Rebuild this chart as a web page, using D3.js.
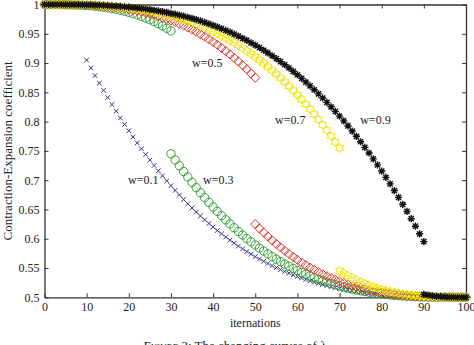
<!DOCTYPE html>
<html>
<head>
<meta charset="utf-8">
<script src="https://cdn.jsdelivr.net/npm/d3@7"></script>
<style>
  html, body { margin: 0; padding: 0; background: #fff; }
  svg { display: block; }
  text { font-family: "Liberation Serif", "DejaVu Serif", serif; fill: #222; }
</style>
</head>
<body>
<svg id="chart" width="474" height="345"></svg>
<script>
// ---- data ----
const xTicks = [0, 10, 20, 30, 40, 50, 60, 70, 80, 90, 100];
const yTicks = [0.5, 0.55, 0.6, 0.65, 0.7, 0.75, 0.8, 0.85, 0.9, 0.95, 1];
const labels = ["w=0.1", "w=0.3", "w=0.5", "w=0.7", "w=0.9"];
// first iteration of each phase: [phase 1 start, phase 2 start]
const phaseStarts = [[0, 10], [0, 30], [0, 50], [0, 70], [0, 90]];

const w01a = [1,1,1,0.9999,0.9997,0.9994,0.9989,0.9983,0.9974,0.9964,0.995];
const w01b = [0.905,0.8917,0.8786,0.8658,0.8534,0.8412,0.8293,0.8177,0.8063,0.7952,
  0.7844,0.7739,0.7636,0.7536,0.7439,0.7344,0.7251,0.7161,0.7074,0.6988,
  0.6906,0.6825,0.6747,0.6671,0.6597,0.6526,0.6456,0.6389,0.6324,0.6261,
  0.62,0.6141,0.6084,0.6029,0.5976,0.5924,0.5875,0.5827,0.5781,0.5737,
  0.5694,0.5654,0.5614,0.5577,0.5541,0.5506,0.5473,0.5442,0.5412,0.5383,
  0.5356,0.533,0.5305,0.5281,0.5259,0.5238,0.5218,0.52,0.5182,0.5166,
  0.515,0.5135,0.5122,0.5109,0.5098,0.5087,0.5077,0.5068,0.5059,0.5051,
  0.5044,0.5038,0.5032,0.5027,0.5023,0.5019,0.5015,0.5012,0.501,0.5007,
  0.5006,0.5004,0.5003,0.5002,0.5001,0.5001,0.5,0.5,0.5,0.5,0.5];

const w03a = [1,1,1,1,0.9999,0.9998,0.9996,0.9994,0.9991,0.9988,
  0.9983,0.9978,0.9971,0.9963,0.9954,0.9944,0.9932,0.9918,0.9903,0.9886,
  0.9867,0.9846,0.9823,0.9797,0.977,0.974,0.9707,0.9672,0.9634,0.9594,0.955];
const w03b = [0.745,0.7346,0.7246,0.7148,0.7054,0.6962,0.6872,0.6786,0.6702,0.6621,
  0.6543,0.6467,0.6394,0.6323,0.6254,0.6188,0.6125,0.6063,0.6004,0.5948,
  0.5893,0.584,0.579,0.5742,0.5695,0.5651,0.5608,0.5568,0.5529,0.5492,
  0.5457,0.5424,0.5392,0.5362,0.5333,0.5306,0.5281,0.5257,0.5234,0.5213,
  0.5193,0.5174,0.5157,0.5141,0.5126,0.5112,0.5099,0.5087,0.5076,0.5066,
  0.5057,0.5049,0.5042,0.5035,0.5029,0.5024,0.502,0.5016,0.5012,0.501,
  0.5007,0.5005,0.5004,0.5002,0.5002,0.5001,0.5,0.5,0.5,0.5,0.5];

const w05a = [1,1,1,1,0.9999,0.9999,0.9998,0.9997,0.9995,0.9993,
  0.999,0.9987,0.9983,0.9978,0.9973,0.9966,0.9959,0.9951,0.9942,0.9931,
  0.992,0.9907,0.9894,0.9878,0.9862,0.9844,0.9824,0.9803,0.978,0.9756,
  0.973,0.9702,0.9672,0.9641,0.9607,0.9571,0.9533,0.9493,0.9451,0.9407,
  0.936,0.9311,0.9259,0.9205,0.9148,0.9089,0.9027,0.8962,0.8894,0.8824,0.875];
const w05b = [0.625,0.6176,0.6106,0.6038,0.5973,0.5911,0.5852,0.5795,0.5741,0.5689,
  0.564,0.5593,0.5549,0.5507,0.5467,0.5429,0.5393,0.5359,0.5328,0.5298,
  0.527,0.5244,0.522,0.5197,0.5176,0.5156,0.5138,0.5122,0.5106,0.5093,
  0.508,0.5069,0.5058,0.5049,0.5041,0.5034,0.5027,0.5022,0.5017,0.5013,
  0.501,0.5007,0.5005,0.5003,0.5002,0.5001,0.5001,0.5,0.5,0.5,0.5];

const w07a = [1,1,1,1,1,0.9999,0.9998,0.9998,0.9996,0.9995,
  0.9993,0.999,0.9988,0.9984,0.998,0.9976,0.9971,0.9965,0.9958,0.9951,
  0.9943,0.9934,0.9924,0.9913,0.9901,0.9888,0.9874,0.9859,0.9843,0.9826,
  0.9807,0.9787,0.9766,0.9743,0.9719,0.9694,0.9667,0.9638,0.9608,0.9576,
  0.9543,0.9508,0.9471,0.9432,0.9392,0.9349,0.9305,0.9258,0.921,0.916,
  0.9107,0.9052,0.8996,0.8937,0.8875,0.8812,0.8746,0.8677,0.8606,0.8533,
  0.8457,0.8379,0.8298,0.8214,0.8128,0.8038,0.7946,0.7852,0.7754,0.7653,0.755];
const w07b = [0.545,0.5406,0.5366,0.5328,0.5293,0.526,0.523,0.5203,0.5177,0.5154,
  0.5133,0.5114,0.5097,0.5082,0.5068,0.5056,0.5046,0.5037,0.5029,0.5022,
  0.5017,0.5012,0.5009,0.5006,0.5004,0.5002,0.5001,0.5,0.5,0.5,0.5];

const w09a = [1,1,1,1,1,0.9999,0.9999,0.9998,0.9997,0.9996,
  0.9994,0.9993,0.999,0.9988,0.9985,0.9981,0.9977,0.9973,0.9968,0.9962,
  0.9956,0.9949,0.9941,0.9932,0.9923,0.9913,0.9902,0.9891,0.9878,0.9865,
  0.985,0.9834,0.9818,0.98,0.9782,0.9762,0.9741,0.9719,0.9695,0.967,
  0.9644,0.9617,0.9588,0.9558,0.9527,0.9494,0.9459,0.9423,0.9386,0.9346,
  0.9306,0.9263,0.9219,0.9173,0.9125,0.9076,0.9024,0.8971,0.8916,0.8859,
  0.88,0.8739,0.8676,0.8611,0.8544,0.8474,0.8403,0.8329,0.8253,0.8175,
  0.8094,0.8012,0.7926,0.7839,0.7749,0.7656,0.7561,0.7464,0.7364,0.7261,
  0.7156,0.7048,0.6937,0.6823,0.6707,0.6588,0.6466,0.6342,0.6214,0.6084,0.595];
const w09b = [0.505,0.5036,0.5026,0.5017,0.5011,0.5006,0.5003,0.5001,0.5,0.5,0.5];

// ---- build series table ----
const seriesValues = [[w01a, w01b], [w03a, w03b], [w05a, w05b], [w07a, w07b], [w09a, w09b]];
const markerTypes = ["x", "circle", "diamond", "hexagram", "asterisk"];
const colors = ["#2e2e88", "#33a033", "#e0352b", "#f2e400", "#111111"];

const series = seriesValues.map((phases, si) => ({
  name: labels[si],
  marker: markerTypes[si],
  color: colors[si],
  points: phases.flatMap((vals, pi) => vals.map((v, i) => ({ t: phaseStarts[si][pi] + i, v })))
}));

// ---- layout ----
const svg = d3.select("#chart");
const x = d3.scaleLinear().domain([0, 100]).range([44.5, 466]);
const y = d3.scaleLinear().domain([0.5, 1]).range([297.3, 4.5]);

const fmtY = d => String(+d.toFixed(2));

// axes with inward ticks
const gB = svg.append("g").attr("transform", `translate(0,${y(0.5)})`)
  .call(d3.axisBottom(x).tickValues(xTicks).tickSize(-4).tickSizeOuter(0).tickPadding(5));
const gT = svg.append("g").attr("transform", `translate(0,${y(1)})`)
  .call(d3.axisTop(x).tickValues(xTicks).tickSize(-4).tickSizeOuter(0).tickFormat(""));
const gL = svg.append("g").attr("transform", `translate(${x(0)},0)`)
  .call(d3.axisLeft(y).tickValues(yTicks).tickSize(-4).tickSizeOuter(0).tickPadding(5).tickFormat(fmtY));
const gR = svg.append("g").attr("transform", `translate(${x(100)},0)`)
  .call(d3.axisRight(y).tickValues(yTicks).tickSize(-4).tickSizeOuter(0).tickFormat(""));

[gB, gT, gL, gR].forEach(g => {
  g.selectAll("path.domain").attr("stroke", "#333").attr("stroke-width", 1.3);
  g.selectAll(".tick line").attr("stroke", "#333").attr("stroke-width", 1);
  g.selectAll("text").attr("font-size", 12).attr("fill", "#222")
    .attr("font-family", '"Liberation Serif", serif');
});

// ---- markers ----
function markerPath(type) {
  switch (type) {
    case "x": { const s = 2.3; return `M${-s},${-s}L${s},${s}M${-s},${s}L${s},${-s}`; }
    case "circle": { const r = 4.2; return `M${r},0A${r},${r} 0 1,1 ${-r},0A${r},${r} 0 1,1 ${r},0Z`; }
    case "diamond": { const r = 4.6; return `M0,${-r}L${r},0L0,${r}L${-r},0Z`; }
    case "hexagram": {
      const R = 4.6, ri = 2.7; let p = "";
      for (let k = 0; k < 12; k++) {
        const a = -Math.PI / 2 + k * Math.PI / 6;
        const rr = k % 2 === 0 ? R : ri;
        p += (k === 0 ? "M" : "L") + (rr * Math.cos(a)).toFixed(2) + "," + (rr * Math.sin(a)).toFixed(2);
      }
      return p + "Z";
    }
    case "asterisk": {
      const s = 3.6, d = 2.6;
      return `M0,${-s}L0,${s}M${-s},0L${s},0M${-d},${-d}L${d},${d}M${-d},${d}L${d},${-d}`;
    }
  }
}

const plot = svg.append("g");
series.forEach(s => {
  plot.append("g")
    .selectAll("path")
    .data(s.points)
    .join("path")
    .attr("transform", d => `translate(${x(d.t)},${y(d.v)})`)
    .attr("d", markerPath(s.marker))
    .attr("fill", "none")
    .attr("stroke", s.color)
    .attr("stroke-width", s.marker === "asterisk" ? 1.4 : 1);
});

// ---- annotations (anchored in data coordinates) ----
const annot = [
  { text: labels[0], t: 19.8, v: 0.6935 },
  { text: labels[1], t: 37.6, v: 0.6935 },
  { text: labels[2], t: 35.0, v: 0.8935 },
  { text: labels[3], t: 54.7, v: 0.796 },
  { text: labels[4], t: 74.9, v: 0.796 }
];
svg.append("g").selectAll("text").data(annot).join("text")
  .attr("x", d => x(d.t)).attr("y", d => y(d.v))
  .attr("font-size", 12).text(d => d.text);

// axis titles
svg.append("text").attr("x", (x(0) + x(100)) / 2).attr("y", 327)
  .attr("text-anchor", "middle").attr("font-size", 12).text("iternations");
svg.append("text")
  .attr("transform", `translate(11.5,${(y(0.5) + y(1)) / 2}) rotate(-90)`)
  .attr("text-anchor", "middle").attr("font-size", 13)
  .text("Contraction-Expansion coefficient");

// caption (cut off at bottom edge as in the reference)
const cap = svg.append("text").attr("x", 235).attr("y", 350)
  .attr("text-anchor", "middle").attr("font-size", 13);
cap.append("tspan").attr("font-variant", "small-caps").text("Figure 3");
cap.append("tspan").text(": The changing curves of λ");
</script>
</body>
</html>
